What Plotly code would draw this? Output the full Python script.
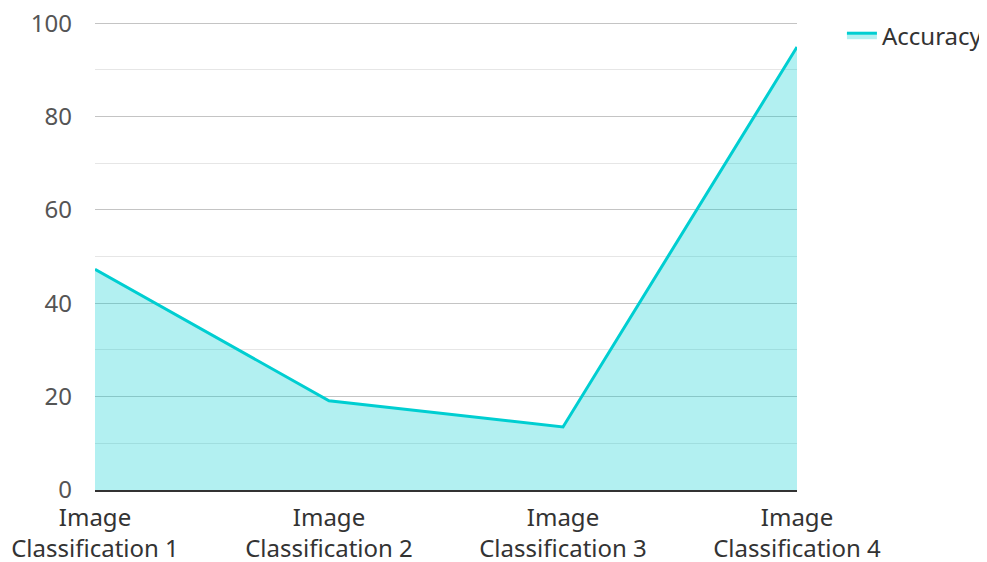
import plotly.graph_objects as go

categories = ["Image<br>Classification 1", "Image<br>Classification 2",
              "Image<br>Classification 3", "Image<br>Classification 4"]
accuracy = [47.3, 19.1, 13.5, 94.9]
series_name = "Accuracy"

fig = go.Figure()
fig.add_trace(go.Scatter(
    x=categories, y=accuracy, name=series_name, mode="lines",
    line=dict(color="#00CED1", width=3),
    fill="tozeroy", fillcolor="rgba(0,206,209,0.3)",
))

fig.update_layout(
    width=979, height=554,
    margin=dict(l=87, r=190, t=14, b=72, autoexpand=False),
    paper_bgcolor="white", plot_bgcolor="white",
    font=dict(family="Noto Sans", size=24, color="#444"),
    showlegend=True,
    legend=dict(x=1.064, y=1.019, xanchor="left", yanchor="top",
                font=dict(size=24, color="#333")),
    xaxis=dict(type="category", range=[0, 3], showgrid=False, automargin=False,
               showline=True, linecolor="#333", linewidth=2,
               ticks="", ticklabelstandoff=5, ticklabeloverflow="allow",
               tickfont=dict(size=24, color="#333")),
    yaxis=dict(range=[0, 100.25], dtick=20, showgrid=True, gridcolor="#c4c4c4",
               gridwidth=1, zeroline=False, showline=False, ticks="", automargin=False,
               ticklen=0, ticklabelstandoff=22, ticklabeloverflow="allow",
               tickfont=dict(size=24, color="#555"),
               minor=dict(dtick=10, showgrid=True, gridcolor="#e6e6e6", gridwidth=1)),
)

fig.write_html("out.html")
